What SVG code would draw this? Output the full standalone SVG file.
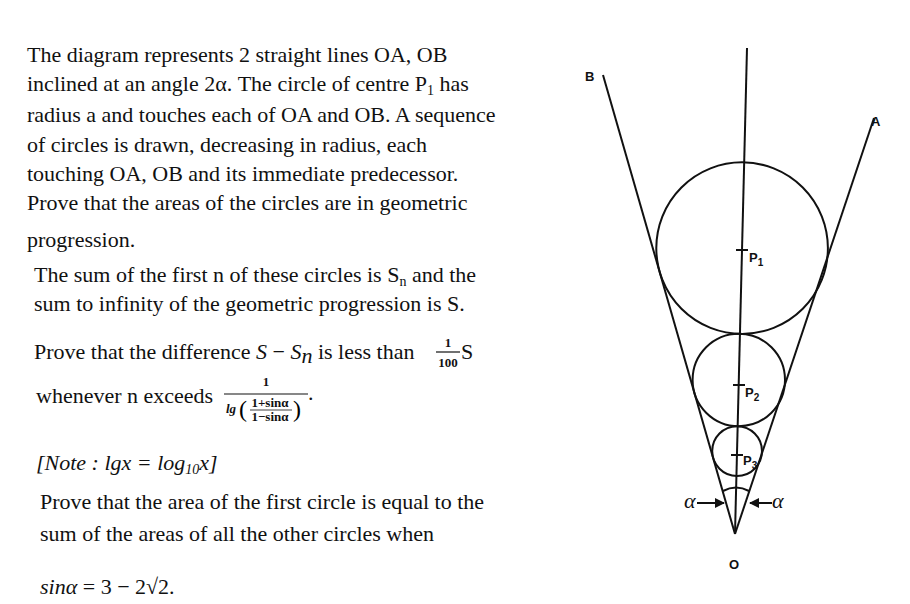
<svg xmlns="http://www.w3.org/2000/svg" width="910" height="604" viewBox="0 0 910 604">
<style>
.t{font-family:"Liberation Serif",serif;font-size:22px;fill:#111}
.m{font-family:"Liberation Serif",serif;font-style:italic;font-size:22px;fill:#111}
.s{font-family:"Liberation Serif",serif;font-size:13px;fill:#111;font-weight:bold}
.l{font-family:"Liberation Sans",sans-serif;font-weight:bold;font-size:13px;fill:#111}
.k{stroke:#111;stroke-width:2;fill:none}
</style>
<defs><marker id="ar" viewBox="0 0 10 10" refX="9" refY="5" markerWidth="5" markerHeight="5" orient="auto"><path d="M0,0L10,5L0,10z" fill="#111"/></marker></defs>
<rect width="910" height="604" fill="#fff"/>
<g id="text">
<text class="t" x="27" y="62">The diagram represents 2 straight lines OA, OB</text>
<text class="t" x="27" y="91">inclined at an angle 2α.  The circle of centre P<tspan font-size="14" dy="4">1</tspan><tspan dy="-4"> has</tspan></text>
<text class="t" x="27" y="122">radius a and touches each of OA and OB. A sequence</text>
<text class="t" x="27" y="152">of circles is drawn, decreasing in radius, each</text>
<text class="t" x="27" y="181">touching OA, OB and its immediate predecessor.</text>
<text class="t" x="27" y="210">Prove that the areas of the circles are in geometric</text>
<text class="t" x="27" y="247">progression.</text>
<text class="t" x="34" y="282">The sum of the first n of these circles is S<tspan font-size="14" dy="4">n</tspan><tspan dy="-4"> and the</tspan></text>
<text class="t" x="34" y="311">sum to infinity of the geometric progression is S.</text>
<text class="t" x="34" y="359">Prove that the difference <tspan class="m">S</tspan> − <tspan class="m">S</tspan><tspan class="m" font-size="14" dy="4">n</tspan><tspan dy="-4"> is less than</tspan></text>
<text class="s" x="448" y="347" text-anchor="middle">1</text>
<line x1="436" y1="352" x2="460" y2="352" stroke="#111" stroke-width="1.2"/>
<text class="s" x="448" y="367" text-anchor="middle">100</text>
<text class="t" x="461" y="359">S</text>
<text class="t" x="36" y="403">whenever n exceeds</text>
<text class="s" x="266" y="386" text-anchor="middle">1</text>
<line x1="224" y1="394" x2="308" y2="394" stroke="#111" stroke-width="1.2"/>
<text class="s" x="226" y="413" font-style="italic">lg</text>
<text x="239" y="417" font-family="Liberation Serif,serif" font-size="24">(</text>
<text class="s" x="270" y="407" font-size="11" text-anchor="middle">1+sinα</text>
<line x1="250" y1="410" x2="292" y2="410" stroke="#111" stroke-width="0.8"/>
<text class="s" x="270" y="421" font-size="11" text-anchor="middle">1−sinα</text>
<text x="293" y="417" font-family="Liberation Serif,serif" font-size="24">)</text>
<text class="t" x="308" y="400">.</text>
<text class="m" x="36" y="470">[Note : lgx = log<tspan font-size="14" dy="4">10</tspan><tspan dy="-4">x]</tspan></text>
<text class="t" x="40" y="509">Prove that the area of the first circle is equal to the</text>
<text class="t" x="40" y="541">sum of the areas of all the other circles when</text>
<text class="m" x="40" y="594">sinα<tspan font-style="normal"> = 3 − 2√2.</tspan></text>
</g>
<g id="connectors">
<line class="k" x1="735" y1="534" x2="603" y2="75"/>
<line class="k" x1="735" y1="534" x2="874" y2="118"/>
<line class="k" x1="735" y1="534" x2="747" y2="48" stroke-width="1.6"/>
<path class="k" d="M723,491 Q736,484 749,491" stroke-width="1.5"/>
<line class="k" x1="697" y1="503" x2="724" y2="503" stroke-width="1.5" marker-end="url(#ar)"/>
<line class="k" x1="772" y1="503" x2="750" y2="503" stroke-width="1.5" marker-end="url(#ar)"/>
</g>
<g id="P1"><circle class="k" cx="742.1" cy="248.1" r="85.8"/><line class="k" x1="736" y1="250" x2="748" y2="250" stroke-width="1.5"/><text class="l" x="749" y="262">P<tspan font-size="10" dy="4">1</tspan></text></g>
<g id="P2"><circle class="k" cx="738.8" cy="380" r="46.2"/><line class="k" x1="733" y1="385" x2="745" y2="385" stroke-width="1.5"/><text class="l" x="745" y="397">P<tspan font-size="10" dy="4">2</tspan></text></g>
<g id="P3"><circle class="k" cx="737.1" cy="451.1" r="24.9"/><line class="k" x1="731" y1="455" x2="743" y2="455" stroke-width="1.5"/><text class="l" x="743" y="465">P<tspan font-size="10" dy="4">3</tspan></text></g>
<g id="labels">
<text class="l" x="585" y="81">B</text>
<text class="l" x="871" y="126" font-size="11">A</text>
<text class="l" x="729" y="569" font-size="15">O</text>
<text class="m" x="684" y="508" font-size="14">α</text>
<text class="m" x="772" y="508" font-size="14">α</text>
</g>
</svg>
